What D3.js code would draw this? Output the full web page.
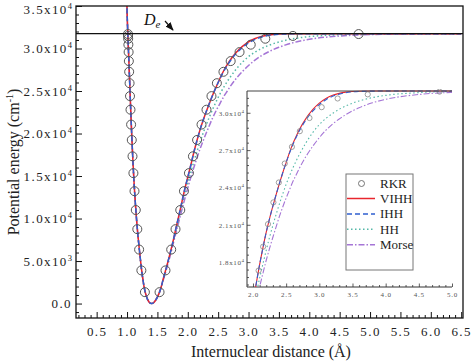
<!DOCTYPE html>
<html>
<head>
<meta charset="utf-8">
<script src="https://cdn.jsdelivr.net/npm/d3@7"></script>
<style>
body{margin:0;background:#fff}
text{font-family:"Liberation Serif","Times New Roman",serif}
</style>
</head>
<body>
<div id="chart"></div>
<script>
// ---- data ----
const De = 31750;

// RKR turning points (energy level, inner and outer distance)
const rkrE = [1340, 3900, 6350, 8750, 11000, 13220, 15340, 17320, 19240, 21050, 22800, 24400, 25920, 27260, 28520, 29580, 30450, 31150, 31480, 31700];
const rkrInner = [1.294, 1.236, 1.199, 1.169, 1.144, 1.123, 1.105, 1.090, 1.078, 1.067, 1.057, 1.049, 1.042, 1.035, 1.030, 1.026, 1.022, 1.019, 1.017, 1.016];
const rkrOuter = [1.535, 1.633, 1.727, 1.798, 1.876, 1.937, 2.019, 2.085, 2.153, 2.226, 2.308, 2.390, 2.479, 2.587, 2.706, 2.852, 3.036, 3.276, 3.730, 4.812];

// potential curves, sampled at rGrid
const rGrid = [0.99, 1.00, 1.01, 1.02, 1.03, 1.04, 1.05, 1.06, 1.07, 1.08, 1.09, 1.10, 1.12, 1.14, 1.16, 1.18, 1.20, 1.24, 1.28, 1.32, 1.36, 1.40,
  1.45, 1.50, 1.55, 1.60, 1.65, 1.70, 1.75, 1.80, 1.85, 1.90, 1.95, 2.00, 2.05, 2.10, 2.15, 2.20, 2.25, 2.30, 2.35, 2.40, 2.45, 2.50, 2.55, 2.60, 2.65, 2.70,
  2.80, 2.90, 3.00, 3.10, 3.20, 3.30, 3.40, 3.50, 3.60, 3.80, 4.00, 4.50, 5.00, 5.50, 6.00, 6.50];

const eVIHH = [38500, 34600, 32300, 30400, 28600, 26700, 24800, 22900, 21100, 19400, 17800, 16300, 13700, 11500, 9600, 7950, 6550, 3950, 2000, 820, 200, 0,
  190, 760, 1650, 3000, 4300, 5650, 7100, 8700, 10250, 11850, 13450, 14850, 16300, 17800, 19150, 20400, 21500, 22500, 23450, 24350, 25200, 26000, 26800, 27500, 28100, 28650,
  29550, 30250, 30780, 31150, 31400, 31560, 31660, 31710, 31735, 31748, 31750, 31750, 31750, 31750, 31750, 31750];
const eIHH = [38500, 34600, 32300, 30400, 28600, 26700, 24800, 22900, 21100, 19400, 17800, 16300, 13700, 11500, 9600, 7950, 6550, 3950, 2000, 820, 200, 0,
  190, 760, 1650, 3000, 4300, 5650, 7100, 8700, 10250, 11850, 13450, 14850, 16300, 17800, 19150, 20400, 21500, 22500, 23450, 24350, 25200, 26000, 26750, 27430, 28020, 28560,
  29440, 30130, 30660, 31050, 31320, 31500, 31610, 31680, 31715, 31740, 31748, 31750, 31750, 31750, 31750, 31750];
const eHH = [38500, 34600, 32300, 30400, 28600, 26700, 24800, 22900, 21100, 19400, 17800, 16300, 13700, 11500, 9600, 7950, 6550, 3950, 2000, 820, 200, 0,
  190, 760, 1640, 2950, 4200, 5500, 6900, 8400, 9900, 11350, 12800, 14150, 15450, 16700, 17850, 18950, 20000, 20950, 21850, 22700, 23500, 24250, 24920, 25550, 26120, 26650,
  27600, 28400, 29050, 29550, 29950, 30280, 30550, 30770, 30950, 31220, 31400, 31620, 31710, 31738, 31746, 31750];
const eMorse = [38500, 34600, 32300, 30400, 28600, 26700, 24800, 22900, 21100, 19400, 17800, 16300, 13700, 11500, 9600, 7950, 6550, 3950, 2000, 820, 200, 0,
  200, 790, 1660, 2850, 4050, 5350, 6750, 8150, 9550, 10950, 12300, 13600, 14850, 16000, 17100, 18150, 19100, 20000, 20850, 21700, 22450, 23150, 23800, 24450, 25000, 25550,
  26500, 27300, 28000, 28600, 29100, 29500, 29850, 30150, 30400, 30800, 31080, 31470, 31640, 31705, 31735, 31745];

// axes
const xDomain = [0.16, 6.53];
const yDomain = [-1700, 35000];
const xMajor = [0.5, 1.0, 1.5, 2.0, 2.5, 3.0, 3.5, 4.0, 4.5, 5.0, 5.5, 6.0, 6.5];
const yMajor = [0, 5000, 10000, 15000, 20000, 25000, 30000, 35000];
const insetXDomain = [1.91, 5.0];
const insetYDomain = [16000, De];
const insetXMajor = [2.0, 2.5, 3.0, 3.5, 4.0, 4.5, 5.0];
const insetYMajor = [18000, 21000, 24000, 27000, 30000];

const series = [
  {name: "Morse", values: eMorse, color: "#a575d6", dash: "6,2,1.5,2"},
  {name: "HH", values: eHH, color: "#55b8a8", dash: "1.5,2.5"},
  {name: "VIHH", values: eVIHH, color: "#e8262d", dash: null},
  {name: "IHH", values: eIHH, color: "#2f5fd0", dash: "5,3"}
];
const legendOrder = ["VIHH", "IHH", "HH", "Morse"];

// ---- drawing ----
const W = 474, H = 363;
const serif = '"Liberation Serif","Times New Roman",serif';
const svg = d3.select("#chart").append("svg").attr("width", W).attr("height", H);
svg.append("rect").attr("width", W).attr("height", H).attr("fill", "#fff");

const m = {left: 76, top: 6, right: 463, bottom: 318};
const x = d3.scaleLinear().domain(xDomain).range([m.left, m.right]);
const y = d3.scaleLinear().domain(yDomain).range([m.bottom, m.top]);

const defs = svg.append("defs");
defs.append("clipPath").attr("id", "clipMain").append("rect")
  .attr("x", m.left).attr("y", m.top).attr("width", m.right - m.left).attr("height", m.bottom - m.top);
defs.append("marker").attr("id", "arrow").attr("viewBox", "0 0 10 10")
  .attr("refX", 9).attr("refY", 5).attr("markerWidth", 7).attr("markerHeight", 7)
  .attr("orient", "auto").append("path").attr("d", "M0,1L10,5L0,9z").attr("fill", "#111");

const sup = (d) => {
  if (d === 0) return ["0.0", null];
  const e = Math.floor(Math.log10(d));
  return [(d / Math.pow(10, e)).toFixed(1) + "x10", String(e)];
};

// minor ticks main
const xMinor = d3.range(0.2, 6.55, 0.1).filter(v => !xMajor.some(t => Math.abs(t - v) < 1e-6));
const yMinor = d3.range(-1000, 35001, 1000).filter(v => v % 5000 !== 0);

const gxMinor = svg.append("g").attr("transform", `translate(0,${m.bottom})`)
  .call(d3.axisBottom(x).tickValues(xMinor).tickSizeInner(-3).tickSizeOuter(0).tickFormat(""));
const gyMinor = svg.append("g").attr("transform", `translate(${m.left},0)`)
  .call(d3.axisLeft(y).tickValues(yMinor).tickSizeInner(-3).tickSizeOuter(0).tickFormat(""));

const gx = svg.append("g").attr("transform", `translate(0,${m.bottom})`)
  .call(d3.axisBottom(x).tickValues(xMajor).tickSizeInner(-6).tickSizeOuter(0).tickPadding(9).tickFormat(d3.format(".1f")));
const gy = svg.append("g").attr("transform", `translate(${m.left},0)`)
  .call(d3.axisLeft(y).tickValues(yMajor).tickSizeInner(-6).tickSizeOuter(0).tickPadding(4));

[gxMinor, gyMinor, gx, gy].forEach(g => {
  g.select(".domain").remove();
  g.selectAll("line").attr("stroke", "#111").attr("stroke-width", 1);
});
[gx, gy].forEach(g => g.attr("font-family", serif).attr("font-size", 13));
gx.selectAll("text").attr("fill", "#222").attr("letter-spacing", 1.4);
gy.selectAll(".tick text").attr("fill", "#222").attr("letter-spacing", 1.4).each(function(d) {
  const t = d3.select(this), s = sup(d);
  t.text(null);
  if (d === yMajor[yMajor.length - 1]) t.attr("y", 3);   // top label sits a little lower
  t.append("tspan").text(s[0]);
  if (s[1]) t.append("tspan").attr("dy", -5).attr("font-size", 8.5).attr("letter-spacing", 0).text(s[1]);
});

// curves
const line = d3.line().x(d => x(d[0])).y(d => y(d[1])).curve(d3.curveMonotoneX);
const plot = svg.append("g").attr("clip-path", "url(#clipMain)");
series.forEach(s => {
  plot.append("path").datum(rGrid.map((r, i) => [r, s.values[i]]))
    .attr("d", line).attr("fill", "none").attr("stroke", s.color)
    .attr("stroke-width", 1.5).attr("stroke-dasharray", s.dash);
});

// De line
svg.append("line").attr("x1", m.left).attr("x2", m.right).attr("y1", y(De)).attr("y2", y(De))
  .attr("stroke", "#111").attr("stroke-width", 1.3);

// RKR points
const rkrPts = rkrE.map((e, i) => [rkrInner[i], e]).concat(rkrE.map((e, i) => [rkrOuter[i], e]));
plot.selectAll("circle.rkr").data(rkrPts).enter().append("circle")
  .attr("cx", d => x(d[0])).attr("cy", d => y(d[1])).attr("r", 4.5)
  .attr("fill", "none").attr("stroke", "#555").attr("stroke-width", 1);

// frame
svg.append("rect").attr("x", m.left).attr("y", m.top).attr("width", m.right - m.left).attr("height", m.bottom - m.top)
  .attr("fill", "none").attr("stroke", "#111").attr("stroke-width", 1.3);

// De label
const deText = svg.append("text").attr("x", 144).attr("y", 25).attr("font-size", 16).attr("font-style", "italic").attr("fill", "#111");
deText.append("tspan").text("D");
deText.append("tspan").attr("dy", 3).attr("font-size", 11).text("e");
svg.append("line").attr("x1", 165).attr("y1", 21).attr("x2", 173).attr("y2", 30)
  .attr("stroke", "#111").attr("stroke-width", 1.2).attr("marker-end", "url(#arrow)");

// axis titles
svg.append("text").attr("x", 271).attr("y", 357).attr("text-anchor", "middle")
  .attr("font-size", 16).attr("fill", "#222").text("Internuclear distance (Å)");
const yt = svg.append("text").attr("transform", "translate(19,162) rotate(-90)").attr("text-anchor", "middle")
  .attr("font-size", 16).attr("fill", "#222");
yt.append("tspan").text("Potential energy (cm");
yt.append("tspan").attr("dy", -6).attr("font-size", 10).text("-1");
yt.append("tspan").attr("dy", 6).text(")");

// ---- inset ----
const im = {left: 247, top: 91, right: 452, bottom: 287};
const xi = d3.scaleLinear().domain(insetXDomain).range([im.left, im.right]);
const yi = d3.scaleLinear().domain(insetYDomain).range([im.bottom, im.top]);
const inset = svg.append("g");
inset.append("rect").attr("x", im.left).attr("y", 89).attr("width", 211).attr("height", im.bottom - 89).attr("fill", "#fff");
defs.append("clipPath").attr("id", "clipInset").append("rect")
  .attr("x", im.left).attr("y", im.top - 2).attr("width", im.right - im.left).attr("height", im.bottom - im.top + 2);

const ixMinor = d3.range(2.0, 5.01, 0.1).filter(v => !insetXMajor.some(t => Math.abs(t - v) < 1e-6));
const iyMinor = d3.range(16200, De, 600).filter(v => v % 3000 !== 0);
const gix = inset.append("g").attr("transform", `translate(0,${im.bottom})`)
  .call(d3.axisBottom(xi).tickValues(insetXMajor).tickSizeInner(-3.5).tickSizeOuter(0).tickPadding(5).tickFormat(d3.format(".1f")));
const gixm = inset.append("g").attr("transform", `translate(0,${im.bottom})`)
  .call(d3.axisBottom(xi).tickValues(ixMinor).tickSizeInner(-2).tickSizeOuter(0).tickFormat(""));
const giy = inset.append("g").attr("transform", `translate(${im.left},0)`)
  .call(d3.axisLeft(yi).tickValues(insetYMajor).tickSizeInner(-3.5).tickSizeOuter(0).tickPadding(3));
const giym = inset.append("g").attr("transform", `translate(${im.left},0)`)
  .call(d3.axisLeft(yi).tickValues(iyMinor).tickSizeInner(-2).tickSizeOuter(0).tickFormat(""));
[gix, gixm, giy, giym].forEach(g => {
  g.select(".domain").remove();
  g.selectAll("line").attr("stroke", "#333").attr("stroke-width", 0.8);
});
[gix, giy].forEach(g => g.attr("font-family", serif).attr("font-size", 7));
gix.selectAll("text").attr("fill", "#555").attr("letter-spacing", 0.8);
giy.selectAll(".tick text").attr("fill", "#555").attr("letter-spacing", 0.6).each(function(d) {
  const t = d3.select(this), s = sup(d);
  t.text(null);
  t.append("tspan").text(s[0]);
  t.append("tspan").attr("dy", -3).attr("font-size", 5).attr("letter-spacing", 0).text(s[1]);
});
inset.append("line").attr("x1", im.left).attr("x2", im.left).attr("y1", im.top).attr("y2", im.bottom)
  .attr("stroke", "#333").attr("stroke-width", 1);
inset.append("line").attr("x1", im.left).attr("x2", im.right).attr("y1", im.bottom).attr("y2", im.bottom)
  .attr("stroke", "#333").attr("stroke-width", 1);

const lineI = d3.line().x(d => xi(d[0])).y(d => yi(d[1])).curve(d3.curveMonotoneX);
const iplot = inset.append("g").attr("clip-path", "url(#clipInset)");
series.forEach(s => {
  iplot.append("path").datum(rGrid.map((r, i) => [r, s.values[i]]))
    .attr("d", lineI).attr("fill", "none").attr("stroke", s.color)
    .attr("stroke-width", 1.1).attr("stroke-dasharray", s.dash);
});
inset.append("line").attr("x1", im.left).attr("x2", im.right).attr("y1", yi(De)).attr("y2", yi(De))
  .attr("stroke", "#444").attr("stroke-width", 1);
iplot.selectAll("circle.rkr").data(rkrE.map((e, i) => [rkrOuter[i], e]).filter(d => d[1] >= insetYDomain[0]))
  .enter().append("circle")
  .attr("cx", d => xi(d[0])).attr("cy", d => yi(d[1])).attr("r", 2.6)
  .attr("fill", "none").attr("stroke", "#888").attr("stroke-width", 0.8);

// legend
const lg = svg.append("g").attr("transform", "translate(346,174)");
lg.append("rect").attr("width", 67).attr("height", 96).attr("fill", "#fff").attr("stroke", "#777").attr("stroke-width", 1);
lg.append("circle").attr("cx", 15.5).attr("cy", 9.5).attr("r", 3).attr("fill", "none").attr("stroke", "#666").attr("stroke-width", 0.9);
lg.append("text").attr("x", 34).attr("y", 14).attr("font-size", 13).attr("fill", "#222").text("RKR");
legendOrder.forEach((name, i) => {
  const s = series.find(d => d.name === name);
  const cy = 24.5 + i * 15.4;
  lg.append("line").attr("x1", 1).attr("x2", 29).attr("y1", cy).attr("y2", cy)
    .attr("stroke", s.color).attr("stroke-width", 1.5).attr("stroke-dasharray", s.dash);
  lg.append("text").attr("x", 34).attr("y", cy + 4.5).attr("font-size", 13).attr("fill", "#222").text(name);
});
</script>
</body>
</html>
